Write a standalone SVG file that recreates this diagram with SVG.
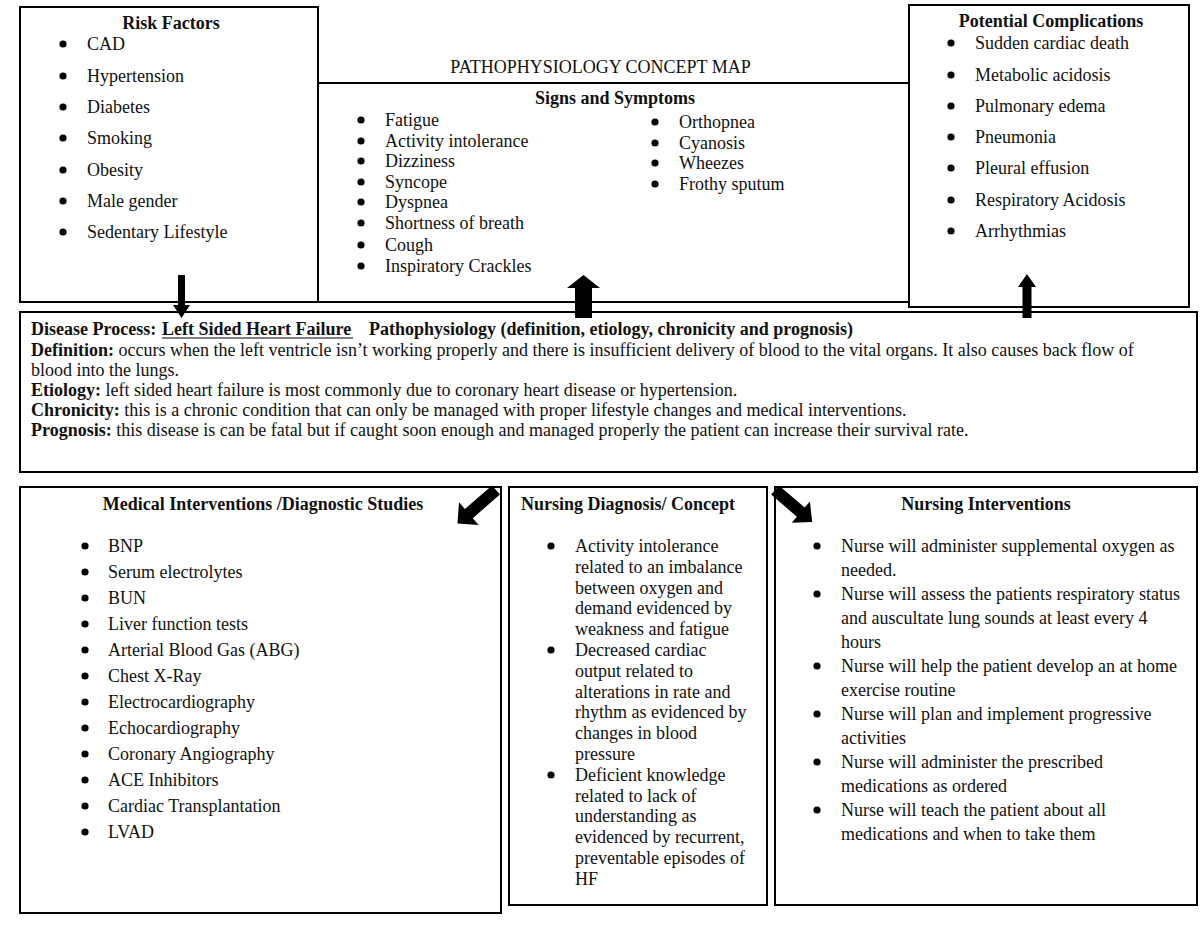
<svg xmlns="http://www.w3.org/2000/svg" width="1200" height="927" viewBox="0 0 1200 927">
<style>
text{font-family:"Liberation Serif","Times New Roman",serif;font-size:18px;fill:#111}
.b{font-weight:bold}
.box{fill:#fff;stroke:#000;stroke-width:2}
.bul{fill:#000}
.arr{fill:#000;stroke:none}
</style>
<defs>
<circle id="dot" r="3.6" class="bul"/>
</defs>
<rect x="0" y="0" width="1200" height="927" fill="#fff"/>

<g id="title">
<text x="600.5" y="73" text-anchor="middle" font-size="18.7">PATHOPHYSIOLOGY CONCEPT MAP</text>
</g>

<g id="risk-factors">
<rect class="box" x="20" y="7" width="298" height="295"/>
<text class="b" x="171" y="29" text-anchor="middle">Risk Factors</text>
<use href="#dot" x="63" y="44"/><text x="87" y="50">CAD</text>
<use href="#dot" x="63" y="76"/><text x="87" y="82">Hypertension</text>
<use href="#dot" x="63" y="107"/><text x="87" y="113">Diabetes</text>
<use href="#dot" x="63" y="138"/><text x="87" y="144">Smoking</text>
<use href="#dot" x="63" y="170"/><text x="87" y="176">Obesity</text>
<use href="#dot" x="63" y="201"/><text x="87" y="207">Male gender</text>
<use href="#dot" x="63" y="232"/><text x="87" y="238">Sedentary Lifestyle</text>
</g>

<g id="signs-symptoms">
<rect class="box" x="318" y="83" width="591" height="219"/>
<text class="b" x="615" y="104" text-anchor="middle">Signs and Symptoms</text>
<use href="#dot" x="361" y="120"/><text x="385" y="126">Fatigue</text>
<use href="#dot" x="361" y="141"/><text x="385" y="147">Activity intolerance</text>
<use href="#dot" x="361" y="161"/><text x="385" y="167">Dizziness</text>
<use href="#dot" x="361" y="182"/><text x="385" y="188">Syncope</text>
<use href="#dot" x="361" y="202"/><text x="385" y="208">Dyspnea</text>
<use href="#dot" x="361" y="223"/><text x="385" y="229">Shortness of breath</text>
<use href="#dot" x="361" y="245"/><text x="385" y="251">Cough</text>
<use href="#dot" x="361" y="266"/><text x="385" y="272">Inspiratory Crackles</text>
<use href="#dot" x="655" y="122"/><text x="679" y="128">Orthopnea</text>
<use href="#dot" x="655" y="143"/><text x="679" y="149">Cyanosis</text>
<use href="#dot" x="655" y="163"/><text x="679" y="169">Wheezes</text>
<use href="#dot" x="655" y="184"/><text x="679" y="190">Frothy sputum</text>
</g>

<g id="potential-complications">
<rect class="box" x="909" y="5" width="280" height="302"/>
<text class="b" x="1051" y="27" text-anchor="middle">Potential Complications</text>
<use href="#dot" x="951" y="43"/><text x="975" y="49">Sudden cardiac death</text>
<use href="#dot" x="951" y="75"/><text x="975" y="81">Metabolic acidosis</text>
<use href="#dot" x="951" y="106"/><text x="975" y="112">Pulmonary edema</text>
<use href="#dot" x="951" y="137"/><text x="975" y="143">Pneumonia</text>
<use href="#dot" x="951" y="168"/><text x="975" y="174">Pleural effusion</text>
<use href="#dot" x="951" y="200"/><text x="975" y="206">Respiratory Acidosis</text>
<use href="#dot" x="951" y="231"/><text x="975" y="237">Arrhythmias</text>
</g>

<g id="disease-process">
<rect class="box" x="20" y="312" width="1177" height="160"/>
<text class="b" x="31" y="335">Disease Process: </text>
<text class="b" x="162" y="335">Left Sided Heart Failure</text>
<line x1="162" y1="338" x2="353" y2="338" stroke="#000" stroke-width="1.2"/>
<text class="b" x="369" y="335">Pathophysiology (definition, etiology, chronicity and prognosis)</text>
<text x="31" y="356"><tspan class="b">Definition:</tspan> occurs when the left ventricle isn’t working properly and there is insufficient delivery of blood to the vital organs. It also causes back flow of</text>
<text x="31" y="376">blood into the lungs.</text>
<text x="31" y="396"><tspan class="b">Etiology:</tspan> left sided heart failure is most commonly due to coronary heart disease or hypertension.</text>
<text x="31" y="416"><tspan class="b">Chronicity:</tspan> this is a chronic condition that can only be managed with proper lifestyle changes and medical interventions.</text>
<text x="31" y="436"><tspan class="b">Prognosis:</tspan> this disease is can be fatal but if caught soon enough and managed properly the patient can increase their survival rate.</text>
</g>

<g id="medical-interventions">
<rect class="box" x="20" y="487" width="481" height="426"/>
<text class="b" x="263" y="510" text-anchor="middle">Medical Interventions /Diagnostic Studies</text>
<use href="#dot" x="85" y="546"/><text x="108" y="552">BNP</text>
<use href="#dot" x="85" y="572"/><text x="108" y="578">Serum electrolytes</text>
<use href="#dot" x="85" y="598"/><text x="108" y="604">BUN</text>
<use href="#dot" x="85" y="624"/><text x="108" y="630">Liver function tests</text>
<use href="#dot" x="85" y="650"/><text x="108" y="656">Arterial Blood Gas (ABG)</text>
<use href="#dot" x="85" y="676"/><text x="108" y="682">Chest X-Ray</text>
<use href="#dot" x="85" y="702"/><text x="108" y="708">Electrocardiography</text>
<use href="#dot" x="85" y="728"/><text x="108" y="734">Echocardiography</text>
<use href="#dot" x="85" y="754"/><text x="108" y="760">Coronary Angiography</text>
<use href="#dot" x="85" y="780"/><text x="108" y="786">ACE Inhibitors</text>
<use href="#dot" x="85" y="806"/><text x="108" y="812">Cardiac Transplantation</text>
<use href="#dot" x="85" y="832"/><text x="108" y="838">LVAD</text>
</g>

<g id="nursing-diagnosis">
<rect class="box" x="509" y="487" width="258" height="418"/>
<text class="b" x="521" y="510">Nursing Diagnosis/ Concept</text>
<use href="#dot" x="551" y="546"/>
<text x="575" y="552">Activity intolerance</text>
<text x="575" y="573">related to an imbalance</text>
<text x="575" y="594">between oxygen and</text>
<text x="575" y="614">demand evidenced by</text>
<text x="575" y="635">weakness and fatigue</text>
<use href="#dot" x="551" y="650"/>
<text x="575" y="656">Decreased cardiac</text>
<text x="575" y="677">output related to</text>
<text x="575" y="698">alterations in rate and</text>
<text x="575" y="718">rhythm as evidenced by</text>
<text x="575" y="739">changes in blood</text>
<text x="575" y="760">pressure</text>
<use href="#dot" x="551" y="775"/>
<text x="575" y="781">Deficient knowledge</text>
<text x="575" y="802">related to lack of</text>
<text x="575" y="822">understanding as</text>
<text x="575" y="843">evidenced by recurrent,</text>
<text x="575" y="864">preventable episodes of</text>
<text x="575" y="885">HF</text>
</g>

<g id="nursing-interventions">
<rect class="box" x="775" y="487" width="422" height="418"/>
<text class="b" x="986" y="510" text-anchor="middle">Nursing Interventions</text>
<use href="#dot" x="817" y="546"/>
<text x="841" y="552">Nurse will administer supplemental oxygen as</text>
<text x="841" y="576">needed.</text>
<use href="#dot" x="817" y="594"/>
<text x="841" y="600">Nurse will assess the patients respiratory status</text>
<text x="841" y="624">and auscultate lung sounds at least every 4</text>
<text x="841" y="648">hours</text>
<use href="#dot" x="817" y="666"/>
<text x="841" y="672">Nurse will help the patient develop an at home</text>
<text x="841" y="696">exercise routine</text>
<use href="#dot" x="817" y="714"/>
<text x="841" y="720">Nurse will plan and implement progressive</text>
<text x="841" y="744">activities</text>
<use href="#dot" x="817" y="762"/>
<text x="841" y="768">Nurse will administer the prescribed</text>
<text x="841" y="792">medications as ordered</text>
<use href="#dot" x="817" y="810"/>
<text x="841" y="816">Nurse will teach the patient about all</text>
<text x="841" y="840">medications and when to take them</text>
</g>

<g id="connectors">
<polygon class="arr" points="178,275 185,275 185,305 190,305 181.5,318 173,305 178,305"/>
<polygon class="arr" points="583.5,275 600,288 592,288 592,318 575,318 575,288 567,288"/>
<polygon class="arr" points="1027,274 1036,287 1031.5,287 1031.5,318 1022.5,318 1022.5,287 1018,287"/>
<polygon class="arr" transform="translate(496,490) rotate(139)" points="0,-6 36,-6 36,-15 51,0 36,15 36,6 0,6"/>
<polygon class="arr" transform="translate(775,490) rotate(40.6)" points="0,-6 34,-6 34,-14 49,0 34,14 34,6 0,6"/>
</g>
</svg>
